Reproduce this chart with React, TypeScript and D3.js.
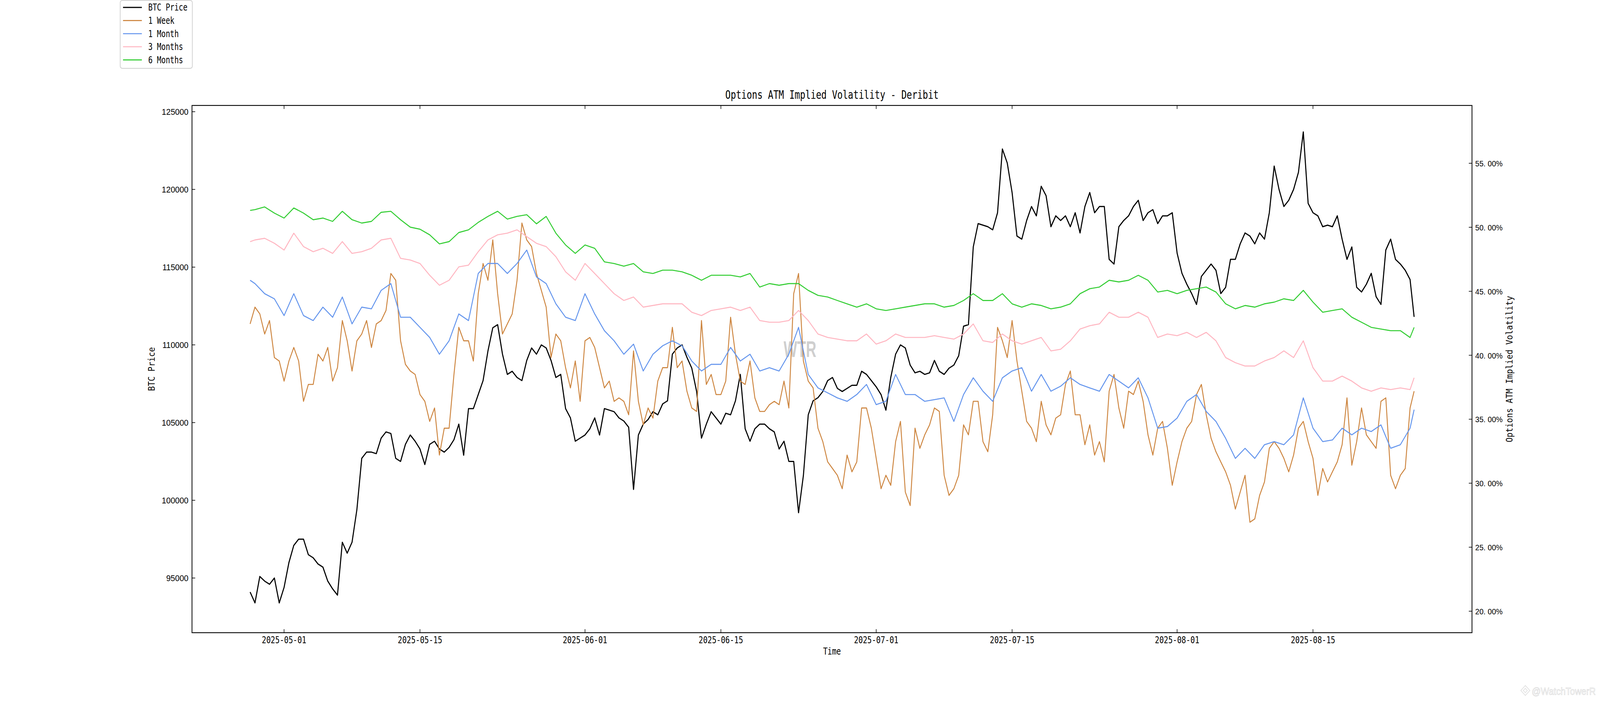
import React from 'react';
import * as d3 from 'd3';

// sample times: first point, daily points at 00:00, last point
const firstTime = '2025-04-27T12:00:00Z';
const dailyStart = '2025-04-28T00:00:00Z';
const dailyStop = '2025-08-26T00:00:00Z';
const lastTime = '2025-08-25T10:00:00Z';

const xTickLabels = ['2025-05-01', '2025-05-15', '2025-06-01', '2025-06-15', '2025-07-01', '2025-07-15', '2025-08-01', '2025-08-15'];
const priceTicks = [95000, 100000, 105000, 110000, 115000, 120000, 125000];
const volTicks = [20, 25, 30, 35, 40, 45, 50, 55];

// BTC price at the daily times
const btcPriceDaily = [
  94100, 93400, 94800, 95000, 94400, 97100, 97500, 96300, 95700, 94300, 97300, 97300, 102700, 103100, 104000, 104300,
  102500, 104200, 103300, 103600, 103300, 103400, 104900, 105900, 106800, 109600, 111300, 108100, 107900, 109000, 109400,
  109800, 107900, 105900, 103800, 104200, 105300, 105900, 105700, 105100, 100700, 104900, 105700, 106200, 109400, 110000,
  108500, 104000, 105700, 104900, 105500, 108100, 103800, 104900, 104600, 103300, 102500, 99200, 105500, 106600, 107700,
  107200, 107200, 107400, 108100, 107300, 105800, 109400, 109800, 108200, 108100, 109000, 108100, 108700, 111200, 116300,
  117700, 117400, 122600, 119800, 116800, 118900, 120200, 117600, 118000, 117600, 117200, 119800, 118900, 115500, 117600,
  118300, 119300, 118500, 117800, 118300, 115900, 113900, 112600, 114800, 114800, 113700, 115500, 117200, 116500, 116800,
  121500, 118900, 120000, 123700, 118500, 117600, 117600, 116800, 116300, 113400, 114600, 112600, 116800, 115200, 114200,
  111800,
];
// BTC price at 12:00 of each day (Apr 28 .. Aug 24)
const btcPriceNoon = [
  95100, 94600, 93400, 96000, 97500, 96500, 95900, 94800, 93900, 96600, 99400, 103100, 103000, 104400, 102700,
  103600, 103800, 102300, 103800, 103100, 103900, 102900, 105900, 107700, 111100, 109400, 108300, 107700, 109800, 110000,
  109000, 108100, 105300, 104000, 104600, 104200, 105800, 105300, 104700, 104200, 105200, 105500, 106400, 109800, 109200,
  107000, 104900, 105300, 105600, 106400, 104600, 104600, 104900, 104400, 103800, 102500, 101600, 106400, 107000, 107900,
  107000, 107400, 108300, 107700, 106800, 107900, 110000, 108700, 108300, 108200, 108300, 108500, 109300, 111300, 117800,
  117600, 118500, 121700, 117000, 118000, 118300, 119600, 118300, 118300, 118500, 118900, 118500, 118900, 115200, 118000,
  118900, 118000, 118700, 118300, 118500, 114600, 113300, 114400, 115200, 113300, 115500, 116500, 117000, 117200, 118500,
  120000, 119300, 121100, 119100, 118300, 117700, 118300, 115500, 113700, 113900, 113100, 116100, 115500, 114800,
];

// 1 week ATM IV (%) at the daily times
const iv1WeekDaily = [
  42.45, 43.76, 41.66, 39.82, 37.98, 40.61, 36.40, 37.72, 39.55, 37.98, 42.71, 38.77, 41.66, 40.61, 42.71, 46.39,
  41.13, 38.77, 36.93, 34.83, 32.20, 34.30, 42.18, 41.13, 44.81, 45.86, 44.81, 42.45, 45.86, 49.01, 46.39,
  43.76, 41.66, 39.03, 39.55, 41.13, 40.61, 37.45, 36.40, 36.40, 40.34, 34.56, 35.09, 39.03, 42.18, 39.55,
  35.88, 42.71, 38.50, 36.93, 42.97, 37.98, 39.55, 35.61, 36.14, 36.14, 35.88, 46.39, 37.98, 34.30, 31.67,
  30.62, 32.20, 31.67, 35.88, 31.94, 30.62, 33.25, 29.31, 34.30, 33.78, 35.88, 30.62, 29.57, 34.56, 36.40,
  33.25, 35.35, 41.13, 42.71, 37.19, 34.30, 36.40, 33.78, 35.35, 38.77, 35.35, 34.56, 33.25, 37.19, 35.88,
  37.19, 37.98, 33.78, 34.30, 32.73, 31.67, 34.30, 36.93, 35.35, 32.46, 30.89, 27.98, 30.62, 27.21, 30.10,
  33.25, 31.94, 32.20, 34.83, 31.94, 31.15, 30.89, 33.01, 31.41, 35.88, 33.25, 36.40, 30.62, 30.62, 35.88,
  37.19,
];
// 1 week ATM IV (%) at 12:00 of each day
const iv1WeekNoon = [
  43.23, 42.71, 39.55, 39.55, 39.55, 37.72, 40.08, 40.61, 39.03, 41.13, 41.13, 42.71, 42.45, 43.50, 45.86,
  39.29, 38.50, 36.40, 35.88, 34.30, 38.50, 41.13, 39.55, 47.17, 49.01, 41.66, 43.23, 50.33, 48.49, 45.07,
  39.82, 41.13, 37.45, 36.40, 41.39, 39.03, 37.98, 36.67, 35.35, 36.40, 35.88, 37.98, 39.03, 39.03, 37.19,
  35.61, 37.72, 36.93, 37.98, 40.08, 37.72, 36.67, 35.61, 36.40, 37.98, 44.81, 39.55, 37.45, 33.25, 31.15,
  29.57, 30.89, 35.88, 34.30, 29.57, 29.84, 34.83, 28.26, 32.73, 34.56, 35.61, 29.05, 30.62, 33.78, 36.40,
  32.46, 42.18, 39.82, 39.55, 34.83, 33.25, 34.56, 35.09, 37.72, 35.35, 33.01, 32.20, 31.67, 38.50, 34.30,
  36.93, 36.40, 32.20, 34.83, 29.84, 33.25, 34.83, 37.72, 33.51, 31.67, 29.84, 29.31, 26.95, 29.05, 32.73,
  32.73, 30.89, 34.30, 33.25, 29.05, 30.10, 31.67, 36.67, 33.25, 33.78, 32.73, 36.67, 29.57, 31.15,
];

const iv1Month = [
  45.86, 45.60, 44.81, 44.41, 43.10, 44.81, 43.10, 42.71, 43.76, 42.97, 44.55, 42.45, 43.76, 43.63, 45.07, 45.60,
  42.97, 42.97, 42.18, 41.39, 40.08, 41.13, 43.23, 42.71, 46.39, 47.17, 47.17, 46.39, 47.17, 48.22, 46.12,
  45.60, 44.02, 42.97, 42.71, 44.81, 43.23, 41.92, 41.13, 40.08, 40.87, 38.77, 40.08, 40.74, 41.13, 40.74,
  39.55, 38.77, 39.29, 39.29, 40.61, 39.55, 40.08, 38.77, 39.03, 38.77, 40.08, 42.18, 38.50, 37.45, 37.06,
  36.67, 36.40, 36.93, 37.72, 36.14, 36.40, 38.50, 36.93, 36.93, 36.40, 36.53, 36.67, 34.83, 36.93, 38.24,
  37.19, 36.40, 38.24, 38.77, 39.03, 37.19, 38.50, 37.19, 37.58, 38.24, 37.72, 37.45, 37.19, 38.50, 37.98,
  37.45, 38.24, 36.67, 34.30, 34.43, 35.09, 36.40, 36.93, 35.61, 34.83, 33.51, 31.94, 32.73, 31.94, 33.01,
  33.25, 33.01, 33.78, 36.67, 34.30, 33.25, 33.38, 34.30, 33.78, 34.30, 34.04, 34.56, 32.73, 33.01, 34.30,
  35.75,
];

const iv3Months = [
  48.88, 49.01, 49.14, 48.75, 48.22, 49.54, 48.49, 48.09, 48.36, 47.96, 48.88, 47.96, 48.09, 48.36, 49.01, 49.14,
  47.57, 47.44, 47.17, 46.25, 45.47, 45.86, 46.91, 47.04, 48.09, 49.01, 49.41, 49.54, 49.80, 49.27, 48.75,
  48.49, 47.70, 46.52, 45.86, 47.17, 46.39, 45.60, 44.81, 44.28, 44.55, 43.76, 43.89, 44.02, 44.02, 44.02,
  43.36, 43.10, 43.50, 43.63, 43.76, 43.50, 43.76, 42.71, 42.58, 42.58, 42.71, 43.50, 42.71, 41.66, 41.39,
  41.26, 41.13, 41.13, 41.66, 40.87, 41.13, 41.66, 41.39, 41.39, 41.39, 41.53, 41.39, 41.26, 41.66, 42.45,
  41.13, 41.00, 41.66, 41.13, 40.87, 41.13, 41.39, 40.34, 40.47, 41.13, 42.05, 42.31, 42.45, 43.36, 42.97,
  42.97, 43.36, 42.97, 41.39, 41.66, 41.53, 41.79, 41.39, 41.79, 41.13, 39.82, 39.42, 39.16, 39.16, 39.55,
  39.82, 40.34, 39.82, 41.13, 39.03, 37.98, 37.98, 38.37, 37.98, 37.45, 37.19, 37.45, 37.32, 37.45, 37.32,
  38.24,
];

const iv6Months = [
  51.32, 51.38, 51.59, 51.11, 50.72, 51.51, 51.11, 50.59, 50.72, 50.46, 51.25, 50.59, 50.33, 50.46, 51.17, 51.25,
  50.59, 50.01, 49.85, 49.41, 48.70, 48.88, 49.59, 49.80, 50.38, 50.85, 51.25, 50.64, 50.85, 50.98, 50.27,
  50.85, 49.54, 48.62, 47.96, 48.62, 48.36, 47.30, 47.17, 46.96, 47.17, 46.52, 46.39, 46.65, 46.65, 46.52,
  46.25, 45.86, 46.25, 46.25, 46.25, 46.12, 46.39, 45.33, 45.60, 45.47, 45.60, 45.60, 45.07, 44.68, 44.55,
  44.28, 44.02, 43.76, 44.02, 43.63, 43.50, 43.63, 43.76, 43.89, 44.02, 44.02, 43.76, 43.89, 44.28, 44.81,
  44.28, 44.28, 44.81, 44.02, 43.76, 44.02, 43.89, 43.63, 43.76, 44.02, 44.81, 45.20, 45.33, 45.86, 45.73,
  45.86, 46.25, 45.86, 44.94, 45.07, 44.81, 45.07, 45.20, 45.33, 44.94, 44.02, 43.63, 43.89, 43.76, 44.02,
  44.15, 44.41, 44.28, 45.07, 44.15, 43.36, 43.50, 43.63, 42.97, 42.58, 42.18, 42.05, 41.92, 41.92, 41.39,
  42.18,
];

const MONO = "'DejaVu Sans Mono', monospace";
const SANS = "'Liberation Sans', Arial, sans-serif";

// half-width monospace text (like SimHei latin)
function MonoText({ x, y, size, children, anchor = 'start', transform }: any) {
  const s = String(children);
  return (
    <text x={x} y={y} fontFamily={MONO} fontSize={size} textAnchor={anchor} transform={transform}
      textLength={s.length * size * 0.5} lengthAdjust="spacingAndGlyphs" fill="#000">
      {s}
    </text>
  );
}

// weave daily and noon samples into one time ordered series
function weave(times: Date[], daily: number[], noon: number[]) {
  const out: { t: Date; v: number }[] = [{ t: times[0], v: daily[0] }];
  for (let k = 1; k < times.length - 1; k++) {
    out.push({ t: times[k], v: daily[k] });
    if (k - 1 < noon.length) out.push({ t: d3.utcHour.offset(times[k], 12), v: noon[k - 1] });
  }
  out.push({ t: times[times.length - 1], v: daily[daily.length - 1] });
  return out;
}

export default function App() {
  const W = 4500, H = 1800;
  const left = 540, right = 4140, top = 270, bottom = 1620;

  const times: Date[] = [
    new Date(firstTime),
    ...d3.utcDay.range(new Date(dailyStart), new Date(dailyStop)),
    new Date(lastTime),
  ];

  const x = d3.scaleUtc()
    .domain([new Date('2025-04-21T12:19:00Z'), new Date('2025-08-31T09:07:00Z')])
    .range([left, right]);
  const yPrice = d3.scaleLinear().domain([91482, 125402]).range([bottom, top]);
  const yVol = d3.scaleLinear().domain([18.32, 59.52]).range([bottom, top]);

  const btc = weave(times, btcPriceDaily, btcPriceNoon);
  const week = weave(times, iv1WeekDaily, iv1WeekNoon);
  const daily = (vals: number[]) => vals.map((v, i) => ({ t: times[i], v }));

  const volSeries = [
    { name: '1 Week', data: week, color: '#cd853f' },
    { name: '1 Month', data: daily(iv1Month), color: '#6495ed' },
    { name: '3 Months', data: daily(iv3Months), color: '#ffb6c1' },
    { name: '6 Months', data: daily(iv6Months), color: '#32cd32' },
  ];

  const priceLine = d3.line<{ t: Date; v: number }>().x(d => x(d.t)).y(d => yPrice(d.v));
  const volLine = d3.line<{ t: Date; v: number }>().x(d => x(d.t)).y(d => yVol(d.v));

  const tickLen = 9;
  const legendItems = [{ name: 'BTC Price', color: '#000', w: 3 }, ...volSeries.map(s => ({ name: s.name, color: s.color, w: 2.6 }))];

  return (
    <svg viewBox={`0 0 ${W} ${H}`} preserveAspectRatio="none"
      style={{ position: 'fixed', left: 0, top: 0, width: '100vw', height: '100vh', background: '#fff' }}>
      <rect x={0} y={0} width={W} height={H} fill="#fff" />

      {/* watermark */}
      <text x={2250} y={914} fontFamily={SANS} fontWeight="bold" fontSize={58} textAnchor="middle"
        textLength={92} lengthAdjust="spacingAndGlyphs" fill="#b0b0b0" opacity={0.6}>WTR</text>

      {/* lines */}
      <path d={priceLine(btc) || ''} fill="none" stroke="#000" strokeWidth={3} strokeLinejoin="round" />
      {volSeries.map(s => (
        <path key={s.name} d={volLine(s.data) || ''} fill="none" stroke={s.color} strokeWidth={2.6} strokeLinejoin="round" />
      ))}

      {/* frame */}
      <rect x={left} y={top} width={right - left} height={bottom - top} fill="none" stroke="#000" strokeWidth={2.2} />

      {/* x ticks */}
      {xTickLabels.map(t => {
        const px = x(new Date(t + 'T00:00:00Z'));
        return (
          <g key={t}>
            <line x1={px} x2={px} y1={bottom} y2={bottom - tickLen} stroke="#000" strokeWidth={1.6} />
            <line x1={px} x2={px} y1={top} y2={top + tickLen} stroke="#000" strokeWidth={1.6} />
            <MonoText x={px} y={1647} size={25} anchor="middle">{t}</MonoText>
          </g>
        );
      })}

      {/* left ticks */}
      {priceTicks.map(v => (
        <g key={v}>
          <line x1={left} x2={left + tickLen} y1={yPrice(v)} y2={yPrice(v)} stroke="#000" strokeWidth={1.6} />
          <text x={530} y={yPrice(v) + 8} fontFamily={SANS} fontSize={22.5} textAnchor="end">{v}</text>
        </g>
      ))}

      {/* right ticks */}
      {volTicks.map(v => {
        const [a, b] = v.toFixed(2).split('.');
        return (
          <g key={v}>
            <line x1={right} x2={right - tickLen} y1={yVol(v)} y2={yVol(v)} stroke="#000" strokeWidth={1.6} />
            <text x={4149} y={yVol(v) + 8} fontFamily={SANS} fontSize={21}>
              {a + '.'}<tspan dx={6}>{b + '%'}</tspan>
            </text>
          </g>
        );
      })}

      {/* titles */}
      <MonoText x={(left + right) / 2} y={253} size={30} anchor="middle">Options ATM Implied Volatility - Deribit</MonoText>
      <MonoText x={(left + right) / 2} y={1676} size={25} anchor="middle">Time</MonoText>
      <MonoText x={0} y={0} size={25} anchor="middle" transform={`translate(435,${(top + bottom) / 2}) rotate(-90)`}>BTC Price</MonoText>
      <MonoText x={0} y={0} size={25} anchor="middle" transform={`translate(4254,${(top + bottom) / 2}) rotate(-90)`}>Options ATM Implied Volatility</MonoText>

      {/* legend */}
      <g>
        <rect x={338} y={1} width={203} height={174} rx={6} fill="#fff" fillOpacity={0.8} stroke="#d0d0d0" strokeWidth={2} />
        {legendItems.map((it, i) => {
          const ly = 19 + i * 33.6;
          return (
            <g key={it.name}>
              <line x1={346} x2={399} y1={ly} y2={ly} stroke={it.color} strokeWidth={it.w} />
              <MonoText x={417} y={ly + 8.5} size={24.5}>{it.name}</MonoText>
            </g>
          );
        })}
      </g>

      {/* corner watermark */}
      <g opacity={0.5}>
        <g transform="translate(4290,1768) rotate(45)" fill="none" stroke="#c8c8c8" strokeWidth={2}>
          <rect x={-9} y={-9} width={18} height={18} />
          <rect x={-4} y={-4} width={8} height={8} />
        </g>
        <text x={4308} y={1779} fontFamily={SANS} fontSize={25} fill="#fff" stroke="#b8b8b8" strokeWidth={1}>@WatchTowerR</text>
      </g>
    </svg>
  );
}
